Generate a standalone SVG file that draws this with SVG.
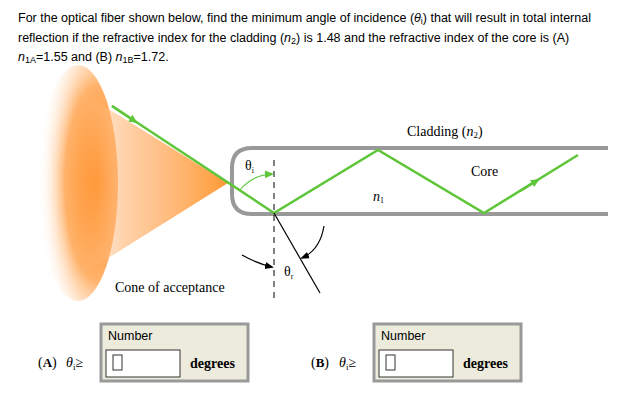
<svg xmlns="http://www.w3.org/2000/svg" width="618" height="407" viewBox="0 0 618 407">
<defs>
<radialGradient id="cone" cx="0.75" cy="0.5" r="0.75">
<stop offset="0" stop-color="#ff8a1e"/><stop offset="0.55" stop-color="#ffb26a"/><stop offset="1" stop-color="#fff" stop-opacity="0"/>
</radialGradient>
<linearGradient id="tri" x1="0" x2="1">
<stop offset="0" stop-color="#ffb26a" stop-opacity="0"/><stop offset="0.4" stop-color="#ffc08a" stop-opacity="0.8"/><stop offset="1" stop-color="#ff9a35"/>
</linearGradient>
<marker id="ga" markerWidth="10" markerHeight="10" refX="7" refY="5" orient="auto" markerUnits="userSpaceOnUse"><path d="M0,1 L9,5 L0,9 Z" fill="#5fc63a"/></marker>
<marker id="ka" markerWidth="10" markerHeight="10" refX="7" refY="5" orient="auto" markerUnits="userSpaceOnUse"><path d="M0,1.5 L9,5 L0,8.5 Z" fill="#000"/></marker>
<style>
.t{font-family:"Liberation Sans",Arial,sans-serif;font-size:12.5px}
.s{font-family:"Liberation Serif",serif;font-size:14px}
.b{font-family:"Liberation Serif",serif;font-size:14px;font-weight:bold}
.panel{fill:#ecebdc;stroke:#999;stroke-width:3}
.inp{fill:#fff;stroke:#333;stroke-width:1}
</style>
</defs>
<g id="question" class="t">
<text x="18" y="22">For the optical fiber shown below, find the minimum angle of incidence (<tspan font-style="italic">θ</tspan><tspan font-size="9" dy="2">i</tspan><tspan dy="-2">) that will result in total internal</tspan></text>
<text x="18" y="42">reflection if the refractive index for the cladding (<tspan font-style="italic">n</tspan><tspan font-size="9" dy="2">2</tspan><tspan dy="-2">) is 1.48 and the refractive index of the core is (A)</tspan></text>
<text x="18" y="61"><tspan font-style="italic">n</tspan><tspan font-size="9" dy="2">1A</tspan><tspan dy="-2">=1.55 and (B) </tspan><tspan font-style="italic">n</tspan><tspan font-size="9" dy="2">1B</tspan><tspan dy="-2">=1.72.</tspan></text>
</g>
<g id="cone-of-acceptance">
<ellipse cx="78" cy="183" rx="40" ry="118" fill="url(#cone)"/>
<path d="M70,85 L228,183 L70,282 Z" fill="url(#tri)"/>
<text class="s" x="115" y="292">Cone of acceptance</text>
</g>
<g id="fiber">
<path d="M608,148 L252,148 Q232,148 232,168 L232,194 Q232,214 252,214 L608,214" fill="none" stroke="#999" stroke-width="4"/>
<text class="s" x="407" y="136">Cladding (<tspan font-style="italic">n</tspan><tspan font-size="9" dy="2">2</tspan><tspan dy="-2">)</tspan></text>
<text class="s" x="471" y="176">Core</text>
<text class="s" x="373" y="201" font-style="italic" font-size="11">n<tspan font-size="8" dy="2" font-style="normal">1</tspan></text>
</g>
<g id="connectors" fill="none">
<path d="M112,106 L274,213 L378,150 L484,213 L578,155" stroke="#5fc63a" stroke-width="2.5"/>
<path d="M112,106 L136,122" stroke="#5fc63a" stroke-width="2.5" marker-end="url(#ga)"/>
<path d="M520,191 L538,180" stroke="#5fc63a" stroke-width="2.5" marker-end="url(#ga)"/>
<line x1="274" y1="160" x2="274" y2="298" stroke="#000" stroke-dasharray="6,5"/>
<line x1="274" y1="213" x2="320" y2="293" stroke="#000" stroke-width="1.2"/>
<path d="M240,190 Q252,175 272,174" stroke="#5fc63a" stroke-width="1.2" marker-end="url(#ga)"/>
<path d="M324,226 Q320,250 302,258" stroke="#000" stroke-width="1.2" marker-end="url(#ka)"/>
<path d="M242,255 Q258,264 272,267" stroke="#000" stroke-width="1.2" marker-end="url(#ka)"/>
</g>
<g id="labels" class="s">
<text x="245" y="170">θ<tspan font-size="8" dy="3">i</tspan></text>
<text x="284" y="276">θ<tspan font-size="8" dy="3">r</tspan></text>
</g>
<g id="answerA">
<text class="s" x="38" y="367">(<tspan font-weight="bold" font-size="13">A</tspan>)</text>
<text class="s" x="66" y="367" font-style="italic" font-size="15">θ<tspan font-size="9" dy="3" font-style="normal">i</tspan><tspan dy="-3" font-style="normal">≥</tspan></text>
<rect class="panel" x="101" y="324" width="147" height="57"/>
<text class="t" x="108" y="340" font-size="11">Number</text>
<rect class="inp" x="106" y="350" width="74" height="27"/>
<rect x="113" y="355" width="9" height="15" fill="none" stroke="#333"/>
<text class="b" x="190" y="368">degrees</text>
</g>
<g id="answerB">
<text class="s" x="311" y="367">(<tspan font-weight="bold" font-size="13">B</tspan>)</text>
<text class="s" x="339" y="367" font-style="italic" font-size="15">θ<tspan font-size="9" dy="3" font-style="normal">i</tspan><tspan dy="-3" font-style="normal">≥</tspan></text>
<rect class="panel" x="374" y="324" width="147" height="57"/>
<text class="t" x="381" y="340" font-size="11">Number</text>
<rect class="inp" x="379" y="350" width="74" height="27"/>
<rect x="386" y="355" width="9" height="15" fill="none" stroke="#333"/>
<text class="b" x="463" y="368">degrees</text>
</g>
</svg>
